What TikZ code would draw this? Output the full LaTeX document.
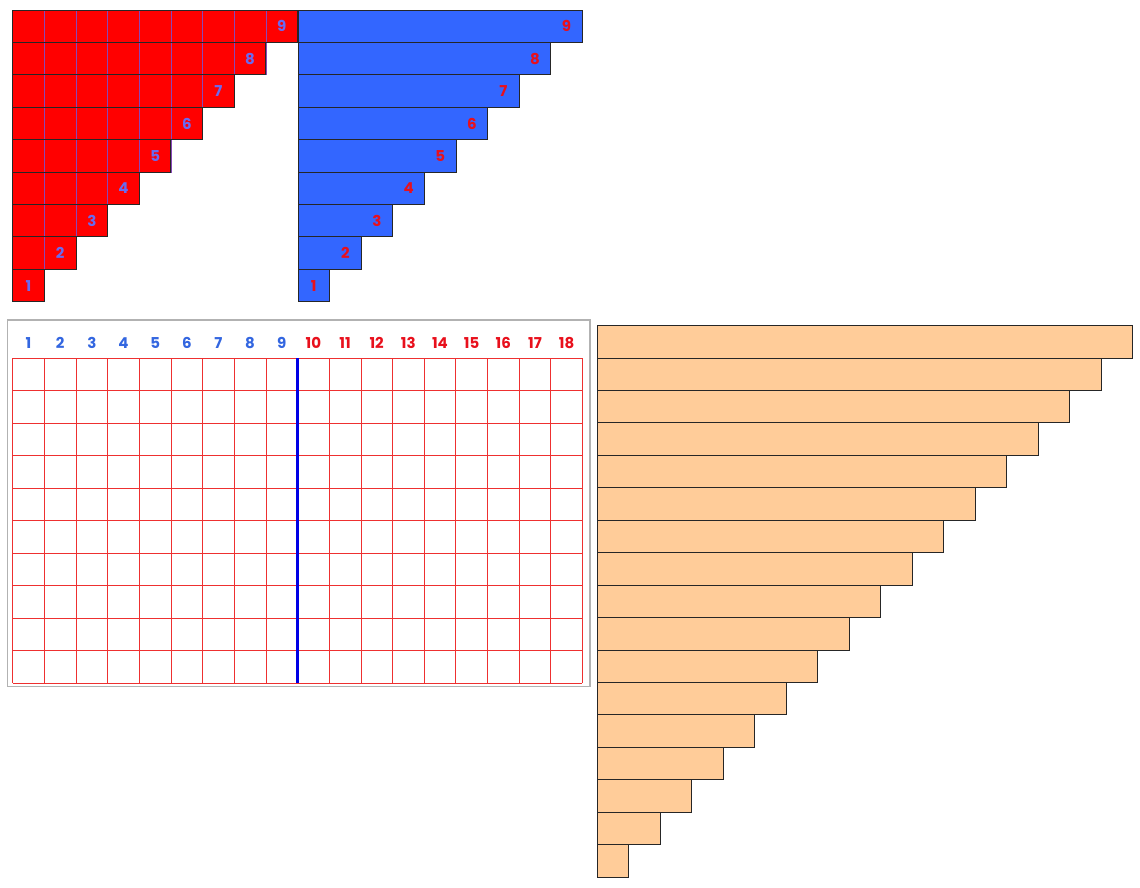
\documentclass[tikz,border=0pt]{standalone}
\usepackage{fontspec}
\setmainfont{Poppins}
\definecolor{rodred}{HTML}{FF0000}
\definecolor{rodblue}{HTML}{3366FF}
\definecolor{rodtan}{HTML}{FFCC99}
\definecolor{celline}{HTML}{8848B8}
\definecolor{numblue}{HTML}{6A6AF0}
\definecolor{headblue}{HTML}{3366E0}
\definecolor{headred}{HTML}{E8101C}
\definecolor{gridred}{HTML}{EE3030}

\begin{document}
\begin{tikzpicture}[x=1pt,y=-1pt,
    redcell/.style={fill=rodred,draw=celline,line width=0.8pt},
    rodline/.style={draw=black!85,line width=1pt},
    bluebar/.style={fill=rodblue,draw=black!85,line width=1pt},
    tanbar/.style={fill=rodtan,draw=black!85,line width=1pt},
    board/.style={draw=black!30,line width=1.2pt},
    gridline/.style={draw=gridred,line width=0.7pt},
    divider/.style={draw=blue!90!black,line width=2.2pt},
    numlabel/.style={inner sep=0pt,font=\fontsize{15}{15}\selectfont\bfseries}]
    \useasboundingbox (0,0) rectangle (1140,887);

    % Barre rosse a quadretti
    \foreach \n in {1,...,9}{
        \pgfmathsetmacro\ry{10+(9-\n)*32.4}
        \foreach \k in {1,...,\n}
            \draw[redcell] (12.7+31.65*\k-31.65,\ry) rectangle ++(31.65,32.4);
        \draw[rodline] (12.7,\ry) rectangle ++(31.65*\n,32.4);
        \node[numlabel,text=numblue] (r\n) at (12.7+31.65*\n-15.8,\ry+16.4) {\n};
    }

    % Barre blu
    \foreach \n in {1,...,9}{
        \pgfmathsetmacro\ry{10+(9-\n)*32.4}
        \draw[bluebar] (298,\ry) rectangle ++(31.6*\n,32.4);
        \node[numlabel,text=headred] (b\n) at (298+31.6*\n-15.8,\ry+16.4) {\n};
    }

    % Tavola
    \draw[board] (7.3,320) rectangle (590,686.7);
    \foreach \k in {0,...,18}
        \draw[gridline] (12.7+31.65*\k,358.3) -- (12.7+31.65*\k,683);
    \foreach \j in {0,...,10}
        \draw[gridline] (12.7,358.3+32.47*\j) -- (582.4,358.3+32.47*\j);
    \draw[divider] (297.5,358.3) -- (297.5,683);
    \foreach \n in {1,...,18}{
        \ifnum\n<10 \def\hc{headblue}\else \def\hc{headred}\fi
        \node[numlabel,text=\hc] (h\n) at (12.7+31.65*\n-15.8,343) {\n};
    }

    % Barre color legno
    \foreach \n in {1,...,17}
        \draw[tanbar] (597.3,325.7+32.43*17-32.43*\n) rectangle ++(31.5*\n,32.43);
\end{tikzpicture}
\end{document}
